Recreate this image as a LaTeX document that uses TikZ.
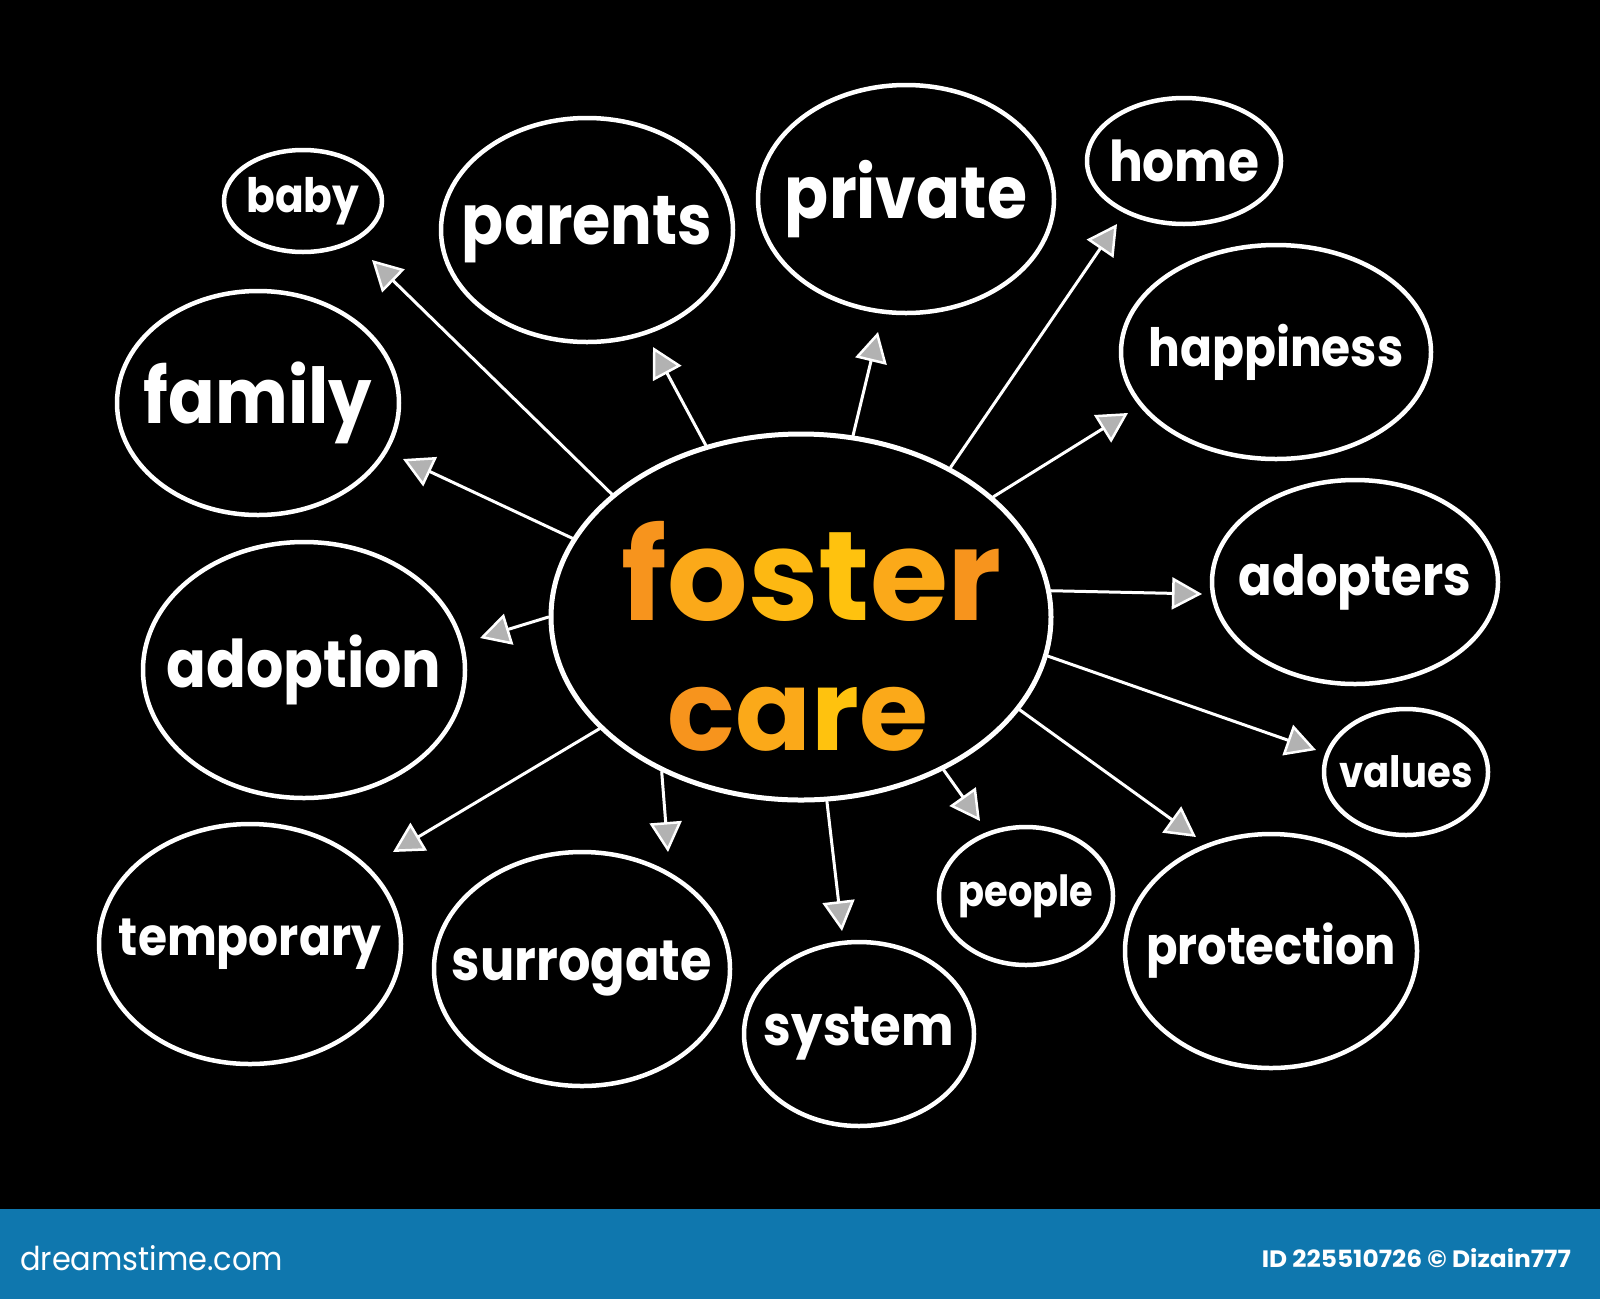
\documentclass[tikz,border=0pt]{standalone}
\usepackage{fontspec}
\setmainfont{Poppins}
\usetikzlibrary{shapes.geometric,arrows.meta}
\definecolor{footblue}{HTML}{0F77AE}
\definecolor{orA}{HTML}{F7941D}
\definecolor{orB}{HTML}{FBA919}
\definecolor{orC}{HTML}{FFC20E}
\newcommand\lbl[2]{\scalebox{1}[1.12]{\resizebox{#1pt}{!}{\bfseries #2}}}
\begin{document}
\begin{tikzpicture}[x=1pt,y=-1pt,
  leaf/.style={ellipse, draw=white, line width=4.5pt, inner sep=0pt},
  every label/.style={text=white, inner sep=0pt},
  arr/.style={draw=white, line width=3pt, line cap=round,
    -{Triangle[length=30pt, width=32pt, fill=white!70!black, line width=2.5pt]}},
  foot/.style={text=white, inner sep=0pt}]
\fill[black] (0,0) rectangle (1600,1299);
\useasboundingbox (0,0) rectangle (1600,1299);
\fill[footblue] (0,1209) rectangle (1600,1299);

% centre
\node[leaf, minimum width=500pt, minimum height=366pt, line width=5pt] (c) at (801,617) {};
\node[anchor=base, inner sep=0pt] (t1) at (812,620) {\resizebox{380pt}{!}{\bfseries\textcolor{orA}{f}\textcolor{orB}{o}\textcolor{orC!60!orB}{s}\textcolor{orC}{t}\textcolor{orB}{e}\textcolor{orA}{r}}};
\node[anchor=base, inner sep=0pt] (t2) at (798,750) {\resizebox{260pt}{!}{\bfseries\textcolor{orA}{c}\textcolor{orB}{a}\textcolor{orC}{r}\textcolor{orB}{e}}};

% leaves
\node[leaf, minimum width=158pt, minimum height=102pt, label={center:{\lbl{113}{baby}}}] (baby) at (303,201) {};
\node[leaf, minimum width=292pt, minimum height=224pt, label={center:{\lbl{250}{parents}}}] (parents) at (587,230) {};
\node[leaf, minimum width=296pt, minimum height=228pt, label={center:{\lbl{242}{private}}}] (private) at (906,199) {};
\node[leaf, minimum width=194pt, minimum height=126pt, label={center:{\lbl{150}{home}}}] (home) at (1184,161) {};
\node[leaf, minimum width=310pt, minimum height=214pt, label={center:{\lbl{255}{happiness}}}] (happiness) at (1276,352) {};
\node[leaf, minimum width=282pt, minimum height=224pt, label={center:{\lbl{228}{family}}}] (family) at (258,403) {};
\node[leaf, minimum width=286pt, minimum height=204pt, label={center:{\lbl{232}{adopters}}}] (adopters) at (1355,582) {};
\node[leaf, minimum width=322pt, minimum height=256pt, label={center:{\lbl{275}{adoption}}}] (adoption) at (304,670) {};
\node[leaf, minimum width=164pt, minimum height=126pt, label={center:{\lbl{133}{values}}}] (values) at (1406,772) {};
\node[leaf, minimum width=302pt, minimum height=240pt, label={center:{\lbl{262}{temporary}}}] (temporary) at (250,944) {};
\node[leaf, minimum width=296pt, minimum height=234pt, label={center:{\lbl{260}{surrogate}}}] (surrogate) at (582,969) {};
\node[leaf, minimum width=230pt, minimum height=184pt, label={center:{\lbl{190}{system}}}] (system) at (859,1034) {};
\node[leaf, minimum width=174pt, minimum height=138pt, label={center:{\lbl{135}{people}}}] (people) at (1026,896) {};
\node[leaf, minimum width=292pt, minimum height=234pt, label={center:{\lbl{250}{protection}}}] (protection) at (1271,951) {};

% arrow tips
\coordinate (tbaby) at (372,260);
\coordinate (tparents) at (653,347);
\coordinate (tprivate) at (878,332);
\coordinate (thome) at (1117,224);
\coordinate (thappiness) at (1128,413);
\coordinate (tfamily) at (403,459);
\coordinate (tadopters) at (1202,594);
\coordinate (tadoption) at (480,638);
\coordinate (tvalues) at (1316,750);
\coordinate (ttemporary) at (393,852);
\coordinate (tsurrogate) at (668,852);
\coordinate (tsystem) at (842,931);
\coordinate (tpeople) at (980,821);
\coordinate (tprotection) at (1196,837);

\draw[arr] (c.147) -- (tbaby);
\draw[arr] (c.119.7) -- (tparents);
\draw[arr] (c.74.2) -- (tprivate);
\draw[arr] (c.45) -- (thome);
\draw[arr] (c.32.3) -- (thappiness);
\draw[arr] (c.161) -- (tfamily);
\draw[arr] (c.6.2) -- (tadopters);
\draw[arr] (c.180) -- (tadoption);
\draw[arr] (c.-9.8) -- (tvalues);
\draw[arr] (c.-151.6) -- (ttemporary);
\draw[arr] (c.-132.9) -- (tsurrogate);
\draw[arr] (c.-82.2) -- (tsystem);
\draw[arr] (c.-47) -- (tpeople);
\draw[arr] (c.-23.9) -- (tprotection);

% footer
\node[foot, anchor=west] (brand) at (20,1258) {\resizebox{263pt}{25pt}{dreamstime.com}};
\node[foot, anchor=east] (credit) at (1571,1258) {\resizebox{309pt}{19pt}{\bfseries ID 225510726 © Dizain777}};
\end{tikzpicture}
\end{document}
